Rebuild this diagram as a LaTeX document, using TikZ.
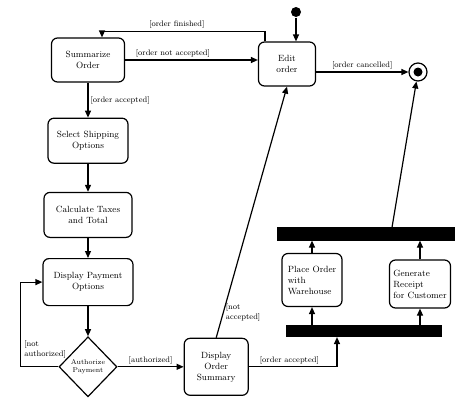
\documentclass[tikz,border=0pt]{standalone}
\usetikzlibrary{positioning,shapes.geometric,arrows.meta}
\begin{document}
\begin{tikzpicture}[x=1pt, y=-1pt, >={Triangle[length=7pt,width=6pt]}, line width=1.2pt,
	state/.style={rectangle, rounded corners=6pt, draw, align=center, font=\small, inner sep=2pt},
	guard/.style={font=\footnotesize, inner sep=2pt},
	bar/.style={rectangle, fill=black, draw=black, inner sep=0pt}]
	\useasboundingbox (0,0) rectangle (474,408);

	\node (summ) [state, minimum width=73pt, minimum height=44pt] at (88,60) {Summarize\\Order};
	\node (ship) [state, minimum width=80pt, minimum height=45pt, below=35pt of summ] {Select Shipping\\Options};
	\node (taxes) [state, minimum width=88pt, minimum height=45pt, below=28pt of ship] {Calculate Taxes\\and Total};
	\node (pay) [state, minimum width=90pt, minimum height=47pt, below=20pt of taxes] {Display Payment\\Options};
	\node (auth) [diamond, draw, minimum width=58pt, minimum height=60pt, inner sep=0pt, align=center, font=\scriptsize, below=30pt of pay] {Authorize\\Payment};
	\node (disp) [state, minimum width=64pt, minimum height=57pt, right=66pt of auth] {Display\\Order\\Summary};

	\node (start) [circle, fill=black, minimum size=10pt, inner sep=0pt] at (296,12) {};
	\node (edit) [state, minimum width=57pt, minimum height=44pt] at (287,64) {Edit\\order};
	\node (end) [circle, draw, minimum size=18pt, inner sep=0pt] at (418,72) {};
	\fill (end) circle (4.5pt);

	\node (join) [bar, minimum width=177pt, minimum height=12pt] at (366,234) {};
	\node (fork) [bar, minimum width=155pt, minimum height=11pt] at (364,331) {};
	\node (place) [state, align=left, minimum width=60pt, minimum height=53pt] at (312,280) {Place Order\\with\\Warehouse};
	\node (receipt) [state, align=left, minimum width=61pt, minimum height=48pt] at (420,284) {Generate\\Receipt\\for Customer};

	\draw[->] (start) -- (start |- edit.north);
	\draw[->] (edit.east |- end) -- node[guard, above]{[order cancelled]} (end);
	\draw[->] (summ.east) -- node[guard, above, pos=0.36]{[order not accepted]} (summ.east -| edit.west);
	\draw[->] ([xshift=7pt]edit.north west) -- ++(0,-10) -| node[guard, above, pos=0.27]{[order finished]} ([xshift=14pt]summ.north);
	\draw[->] (summ) -- node[guard, right]{[order accepted]} (ship);
	\draw[->] (ship) -- (taxes);
	\draw[->] (taxes) -- (pay);
	\draw[->] (pay) -- (auth);
	\draw[->] (auth.west) -- node[guard, above, align=left, pos=0.35, yshift=6pt]{[not\\authorized]} ++(-38,0) |- (pay.west);
	\draw[->] (auth) -- node[guard, above]{[authorized]} (disp);
	\draw[->] (disp.north) -- node[guard, right, align=left, pos=0.1]{[not\\accepted]} (edit.south);
	\draw[->] (disp.east) -| node[guard, above, pos=0.23]{[order accepted]} ([xshift=-27pt]fork.south);
	\draw[->] (place.south |- fork.north) -- (place.south);
	\draw[->] (receipt.south |- fork.north) -- (receipt.south);
	\draw[->] (place.north) -- (place.north |- join.south);
	\draw[->] (receipt.north) -- (receipt.north |- join.south);
	\draw[->] ([xshift=26pt]join.north) -- (end);
\end{tikzpicture}
\end{document}
